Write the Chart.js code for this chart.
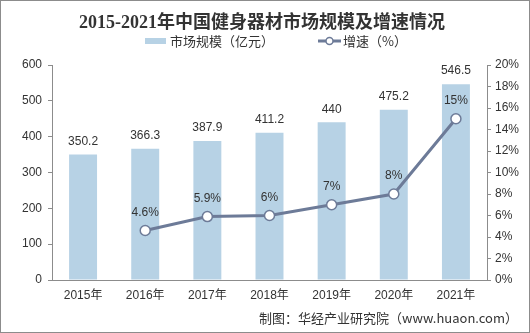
<!DOCTYPE html>
<html>
<head>
<meta charset="utf-8">
<script src="https://cdn.jsdelivr.net/npm/chart.js@4"></script>
<style>
  html, body { margin: 0; padding: 0; background: #fff; }
  #wrap { width: 530px; height: 333px; box-sizing: border-box; border: 1px solid #8c8c8c; position: relative; }
  canvas { position: absolute; left: -1px; top: -1px; }
</style>
</head>
<body>
<div id="wrap"><canvas id="myChart" width="530" height="333"></canvas></div>
<script>
var years = ["2015年", "2016年", "2017年", "2018年", "2019年", "2020年", "2021年"];
var marketSize = [350.2, 366.3, 387.9, 411.2, 440, 475.2, 546.5];
var growthRate = [null, 4.6, 5.9, 6, 7, 8, 15];
var sizeLabels = ["350.2", "366.3", "387.9", "411.2", "440", "475.2", "546.5"];
var rateLabels = ["", "4.6%", "5.9%", "6%", "7%", "8%", "15%"];

var barColor = "#b7d2e5";
var lineColor = "#6d7b98";
var textColor = "#333333";
var axisColor = "#8c8c8c";

var decorPlugin = {
  id: "decor",
  afterDraw: function (chart) {
    var ctx = chart.ctx;
    ctx.save();
    // title
    ctx.fillStyle = "#333";
    ctx.font = "bold 18px 'Liberation Serif', 'Noto Sans CJK SC'";
    ctx.textAlign = "center";
    ctx.textBaseline = "middle";
    ctx.fillText("2015-2021年中国健身器材市场规模及增速情况", 262, 23);

    // legend
    ctx.font = "13px 'Noto Sans CJK SC'";
    ctx.textAlign = "left";
    ctx.fillStyle = barColor;
    ctx.fillRect(145, 38, 21, 6);
    ctx.fillStyle = textColor;
    ctx.fillText("市场规模（亿元）", 170, 41);
    ctx.strokeStyle = lineColor;
    ctx.lineWidth = 3;
    ctx.beginPath();
    ctx.moveTo(318, 41);
    ctx.lineTo(341, 41);
    ctx.stroke();
    ctx.fillStyle = "#fff";
    ctx.lineWidth = 1.5;
    ctx.beginPath();
    ctx.arc(329.5, 41, 3.5, 0, Math.PI * 2);
    ctx.fill();
    ctx.stroke();
    ctx.fillStyle = textColor;
    ctx.fillText("增速（%）", 343, 41);

    // data labels
    ctx.font = "12px 'Liberation Sans', Arial";
    ctx.textAlign = "center";
    ctx.fillStyle = textColor;
    chart.getDatasetMeta(1).data.forEach(function (bar, i) {
      ctx.fillText(sizeLabels[i], bar.x, bar.y - 13);
    });
    chart.getDatasetMeta(0).data.forEach(function (pt, i) {
      if (growthRate[i] === null) return;
      ctx.fillText(rateLabels[i], pt.x, pt.y - 18);
    });

    // footer
    ctx.font = "13px 'Noto Sans CJK SC'";
    ctx.textAlign = "right";
    ctx.fillText("制图：华经产业研究院（www.huaon.com）", 518, 318);
    ctx.restore();
  }
};

var ctx = document.getElementById("myChart").getContext("2d");
new Chart(ctx, {
  data: {
    labels: years,
    datasets: [{
      type: "line",
      label: "增速（%）",
      data: growthRate,
      yAxisID: "y1",
      borderColor: lineColor,
      borderWidth: 3,
      pointRadius: 5,
      pointBorderWidth: 1.5,
      pointBackgroundColor: "#fff",
      pointBorderColor: lineColor,
      tension: 0,
      order: 0
    }, {
      type: "bar",
      label: "市场规模（亿元）",
      data: marketSize,
      yAxisID: "y",
      backgroundColor: barColor,
      barPercentage: 0.45,
      categoryPercentage: 1,
      order: 1
    }]
  },
  options: {
    responsive: false,
    animation: false,
    layout: {
      padding: { left: 0, right: 0, top: 65, bottom: 31 }
    },
    scales: {
      x: {
        offset: true,
        grid: { display: false, drawTicks: false },
        border: { color: axisColor },
        ticks: { color: textColor, font: { size: 12, family: "'Liberation Sans', 'Noto Sans CJK SC'" }, padding: 8 },
        afterFit: function (scale) { scale.height = 22; }
      },
      y: {
        position: "left",
        min: 0,
        max: 600,
        grid: { drawOnChartArea: false, tickLength: 4, color: axisColor },
        border: { color: axisColor },
        ticks: { stepSize: 100, color: textColor, font: { size: 12, family: "'Liberation Sans', Arial" }, padding: 6 },
        afterFit: function (scale) { scale.width = 52; }
      },
      y1: {
        position: "right",
        min: 0,
        max: 20,
        grid: { drawOnChartArea: false, tickLength: 4, color: axisColor },
        border: { color: axisColor },
        ticks: {
          stepSize: 2,
          color: textColor,
          font: { size: 12, family: "'Liberation Sans', Arial" },
          padding: 4,
          callback: function (v) { return v + "%"; }
        },
        afterFit: function (scale) { scale.width = 43; }
      }
    },
    plugins: {
      legend: { display: false },
      title: { display: false },
      tooltip: { enabled: false }
    }
  },
  plugins: [decorPlugin]
});
</script>
</body>
</html>
